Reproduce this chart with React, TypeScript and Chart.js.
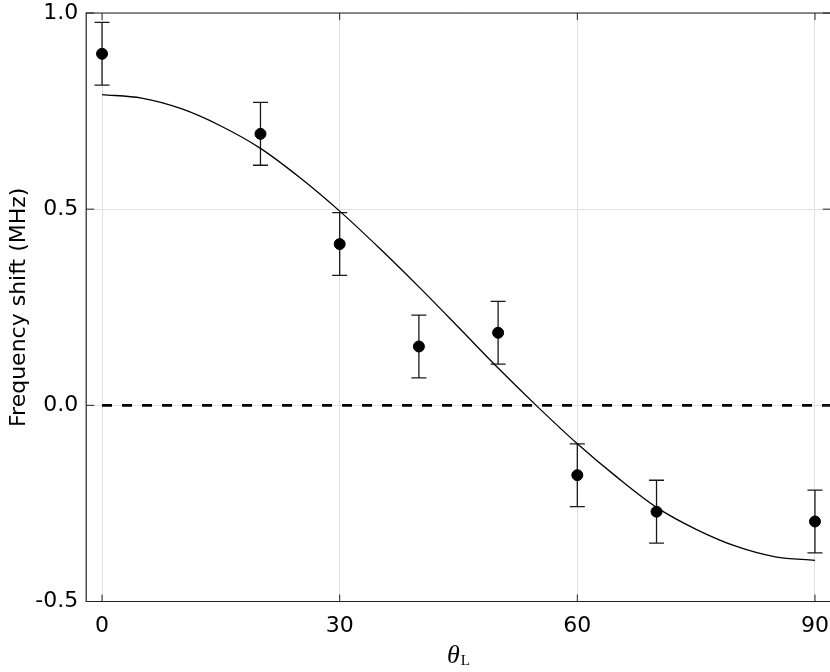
import { useEffect, useRef } from "react";
import { Chart, registerables } from "chart.js";

Chart.register(...registerables);

// Measured data points (angle in degrees, shift in MHz, symmetric error)
const thetaDeg = [0, 20, 30, 40, 50, 60, 70, 90];
const shiftMHz = [0.896, 0.692, 0.411, 0.15, 0.185, -0.178, -0.271, -0.296];
const shiftErr = [0.08, 0.08, 0.08, 0.08, 0.08, 0.08, 0.08, 0.08];

// Fit curve
const fitTheta = [0, 5, 10, 15, 20, 25, 30, 35, 40, 45, 50, 55, 60, 65, 70, 75, 80, 85, 90];
const fitShift = [
  0.792, 0.783, 0.756, 0.712, 0.655, 0.58, 0.495, 0.401, 0.302, 0.199, 0.095, -0.004, -0.098,
  -0.183, -0.26, -0.316, -0.359, -0.386, -0.395,
];

// Zero reference line
const zeroTheta = [0, 96];
const zeroShift = [0, 0];

// Axes
const xTicks = [0, 30, 60, 90];
const yTicks = [-0.5, 0, 0.5, 1.0];
const xMin = -2;
const xMax = 92;
const yMin = -0.5;
const yMax = 1.0;
const yTitle = "Frequency shift (MHz)";
const xTitleMain = "θ";
const xTitleSub = "L";

export default function App() {
  const ref = useRef<HTMLCanvasElement | null>(null);

  useEffect(() => {
    const canvas = ref.current;
    if (!canvas) return;

    const decorPlugin = {
      id: "decor",
      beforeDatasetsDraw(chart: any) {
        const ctx = chart.ctx as CanvasRenderingContext2D;
        const xs = chart.scales.x;
        const ys = chart.scales.y;
        ctx.save();
        ctx.strokeStyle = "#1a1a1a";
        ctx.lineWidth = 1.3;
        for (let i = 0; i < thetaDeg.length; i++) {
          const px = xs.getPixelForValue(thetaDeg[i]);
          const hi = ys.getPixelForValue(shiftMHz[i] + shiftErr[i]);
          const lo = ys.getPixelForValue(shiftMHz[i] - shiftErr[i]);
          ctx.beginPath();
          ctx.moveTo(px, hi);
          ctx.lineTo(px, lo);
          ctx.moveTo(px - 7.5, hi);
          ctx.lineTo(px + 7.5, hi);
          ctx.moveTo(px - 7.5, lo);
          ctx.lineTo(px + 7.5, lo);
          ctx.stroke();
        }
        ctx.restore();
      },
      afterDraw(chart: any) {
        const ctx = chart.ctx as CanvasRenderingContext2D;
        const { left, right, top, bottom } = chart.chartArea;
        const xs = chart.scales.x;
        const ys = chart.scales.y;
        ctx.save();
        ctx.strokeStyle = "#222";
        ctx.lineWidth = 1.2;
        // frame: left, top, bottom (the right side lies just past the visible edge)
        ctx.beginPath();
        ctx.moveTo(right + 2, top);
        ctx.lineTo(left, top);
        ctx.lineTo(left, bottom);
        ctx.lineTo(right + 2, bottom);
        ctx.stroke();
        ctx.lineWidth = 1;
        ctx.beginPath();
        for (const v of xTicks) {
          const px = xs.getPixelForValue(v);
          ctx.moveTo(px, bottom);
          ctx.lineTo(px, bottom - 7);
          ctx.moveTo(px, top);
          ctx.lineTo(px, top + 7);
        }
        for (const v of yTicks) {
          const py = ys.getPixelForValue(v);
          ctx.moveTo(left, py);
          ctx.lineTo(left + 8, py);
          ctx.moveTo(right, py);
          ctx.lineTo(right - 8, py);
        }
        ctx.stroke();

        // x-axis title: italic theta with roman subscript L
        const cx = (left + right) / 2;
        const mainFont = 'italic 26px "Liberation Serif"';
        const subFont = '15px "Liberation Serif"';
        ctx.font = mainFont;
        const wMain = ctx.measureText(xTitleMain).width;
        ctx.font = subFont;
        const wSub = ctx.measureText(xTitleSub).width;
        const x0 = cx - (wMain + wSub + 1) / 2;
        ctx.fillStyle = "#000";
        ctx.textBaseline = "alphabetic";
        ctx.textAlign = "left";
        ctx.font = mainFont;
        ctx.fillText(xTitleMain, x0, 663);
        ctx.font = subFont;
        ctx.fillText(xTitleSub, x0 + wMain + 1, 664.5);
        ctx.restore();
      },
    };

    const font = { family: '"DejaVu Sans"', size: 22 };

    const chart = new Chart(canvas, {
      type: "scatter",
      data: {
        datasets: [
          {
            label: "data",
            data: thetaDeg.map((t, i) => ({ x: t, y: shiftMHz[i] })),
            backgroundColor: "#000",
            borderColor: "#000",
            pointRadius: 5.5,
            pointHoverRadius: 5.5,
            showLine: false,
            order: 0,
          },
          {
            label: "fit",
            data: fitTheta.map((t, i) => ({ x: t, y: fitShift[i] })),
            borderColor: "#000",
            borderWidth: 1.3,
            pointRadius: 0,
            showLine: true,
            cubicInterpolationMode: "monotone",
            order: 1,
          } as any,
          {
            label: "zero",
            data: zeroTheta.map((t, i) => ({ x: t, y: zeroShift[i] })),
            borderColor: "#000",
            borderWidth: 2.8,
            borderDash: [10, 10],
            pointRadius: 0,
            showLine: true,
            order: 2,
          } as any,
        ],
      },
      options: {
        animation: false,
        responsive: false,
        layout: { padding: { top: 13, right: 9.2, left: 0, bottom: 0 } },
        plugins: {
          legend: { display: false },
          tooltip: { enabled: false },
        },
        scales: {
          x: {
            type: "linear",
            min: xMin,
            max: xMax,
            afterBuildTicks: (s: any) => {
              s.ticks = xTicks.map((v) => ({ value: v }));
            },
            afterFit: (s: any) => {
              s.height = 70.5;
              s.paddingLeft = 0;
              s.paddingRight = 0;
            },
            ticks: {
              font,
              color: "#000",
              padding: 12,
              maxRotation: 0,
              autoSkip: false,
              callback: (v: any) => String(v),
            },
            grid: { color: "#e0e0e0", lineWidth: 1, drawTicks: false },
            border: { display: false },
          },
          y: {
            type: "linear",
            min: yMin,
            max: yMax,
            afterBuildTicks: (s: any) => {
              s.ticks = yTicks.map((v) => ({ value: v }));
            },
            afterFit: (s: any) => {
              s.width = 86.2;
              s.paddingTop = 0;
              s.paddingBottom = 0;
            },
            ticks: {
              font,
              color: "#000",
              padding: 8,
              autoSkip: false,
              callback: (v: any) => Number(v).toFixed(1),
            },
            title: {
              display: true,
              text: yTitle,
              font,
              color: "#000",
              padding: { top: 6, bottom: 0 },
            },
            grid: { color: "#e0e0e0", lineWidth: 1, drawTicks: false },
            border: { display: false },
          },
        },
      },
      plugins: [decorPlugin],
    } as any);

    return () => chart.destroy();
  }, []);

  return (
    <div
      style={{
        position: "absolute",
        left: 0,
        top: 0,
        width: 830,
        height: 672,
        overflow: "hidden",
        background: "#fff",
      }}
    >
      <canvas ref={ref} width={840} height={672} style={{ display: "block", width: 840, height: 672 }} />
    </div>
  );
}
